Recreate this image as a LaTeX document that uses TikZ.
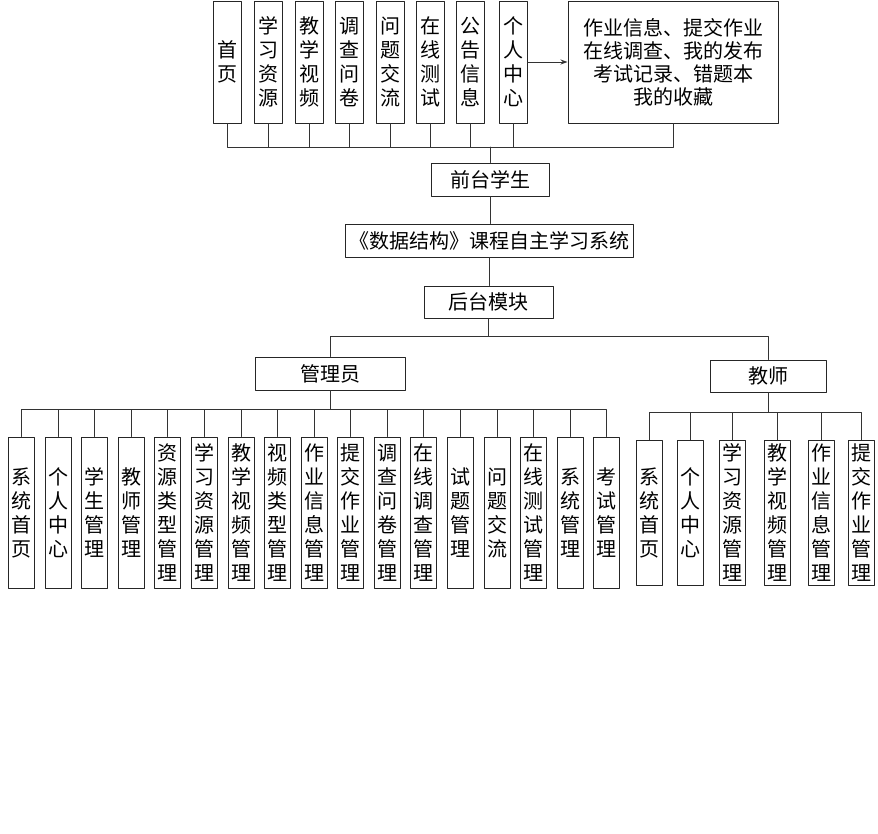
\documentclass[tikz,border=0pt]{standalone}
\usepackage{fontspec}
\setmainfont{Noto Sans CJK SC}
\usetikzlibrary{arrows.meta,positioning}

\begin{document}
\begin{tikzpicture}[x=1pt,y=-1pt,line cap=round,line join=round,
  box/.style={draw=black!85,line width=1pt,inner sep=0pt,align=center,font=\fontsize{20}{24}\selectfont},
  vbox/.style={box,minimum width=26pt},
  link/.style={draw=black!80,line width=1pt}]
\useasboundingbox (0,0) rectangle (878,833);

% front end (student)
\foreach \t/\x [count=\i] in {首\\页/227,学\\习\\资\\源/268,教\\学\\视\\频/309,调\\查\\问\\卷/349,问\\题\\交\\流/390,在\\线\\测\\试/430,公\\告\\信\\息/470,个\\人\\中\\心/513}
  \node[vbox,minimum width=28pt,minimum height=122pt] (f\i) at (\x,62) {\t};
\node[box,minimum width=210pt,minimum height=122pt,font=\fontsize{20}{23}\selectfont] (fcenter) at (673,62)
  {作业信息、提交作业\\在线调查、我的发布\\考试记录、错题本\\我的收藏};
\draw[link,-{Stealth[length=7pt,width=5pt]}] (f8.east) -- (fcenter.west);

\node[box,minimum width=118pt,minimum height=33pt] (front) at (490,179.5) {前台学生};
\node[box,minimum width=288pt,minimum height=33pt] (sys) at (489,240.5) {《数据结构》课程自主学习系统};
\node[box,minimum width=129pt,minimum height=32pt] (back) at (488.5,302) {后台模块};

\coordinate (fbus) at (490,147);
\foreach \i in {1,...,8}
  \draw[link] (f\i.south) |- (fbus);
\draw[link] (fcenter.south) |- (fbus);
\draw[link] (front.north) -- (fbus);
\draw[link] (front.south) -- (front.south |- sys.north);
\draw[link] (sys.south) -- (sys.south |- back.north);

% back end
\node[box,minimum width=150pt,minimum height=33pt] (admin) at (330,373.5) {管理员};
\node[box,minimum width=116pt,minimum height=32pt] (teacher) at (768,376) {教师};
\coordinate (bbus) at (488.5,336);
\draw[link] (back.south) -- (bbus);
\draw[link] (admin.north) |- (bbus);
\draw[link] (teacher.north) |- (bbus);

% admin modules
\coordinate (abus) at (330,409);
\draw[link] (admin.south) -- (abus);
\foreach \t [count=\i] in {系\\统\\首\\页,个\\人\\中\\心,学\\生\\管\\理,教\\师\\管\\理,资\\源\\类\\型\\管\\理,学\\习\\资\\源\\管\\理,教\\学\\视\\频\\管\\理,视\\频\\类\\型\\管\\理,作\\业\\信\\息\\管\\理,提\\交\\作\\业\\管\\理,调\\查\\问\\卷\\管\\理,在\\线\\调\\查\\管\\理,试\\题\\管\\理,问\\题\\交\\流,在\\线\\测\\试\\管\\理,系\\统\\管\\理,考\\试\\管\\理}
{
  \node[vbox,minimum height=151pt] (a\i) at ({21.5+36.59*(\i-1)},512.5) {\t};
  \draw[link] (a\i.north) |- (abus);
}

% teacher modules
\coordinate (tbus) at (768,412);
\draw[link] (teacher.south) -- (tbus);
\foreach \t/\x [count=\i] in {系\\统\\首\\页/649.5,个\\人\\中\\心/690,学\\习\\资\\源\\管\\理/732.5,教\\学\\视\\频\\管\\理/777,作\\业\\信\\息\\管\\理/821,提\\交\\作\\业\\管\\理/861}
{
  \node[vbox,minimum height=145pt] (t\i) at (\x,512.5) {\t};
  \draw[link] (t\i.north) |- (tbus);
}
\end{tikzpicture}
\end{document}
